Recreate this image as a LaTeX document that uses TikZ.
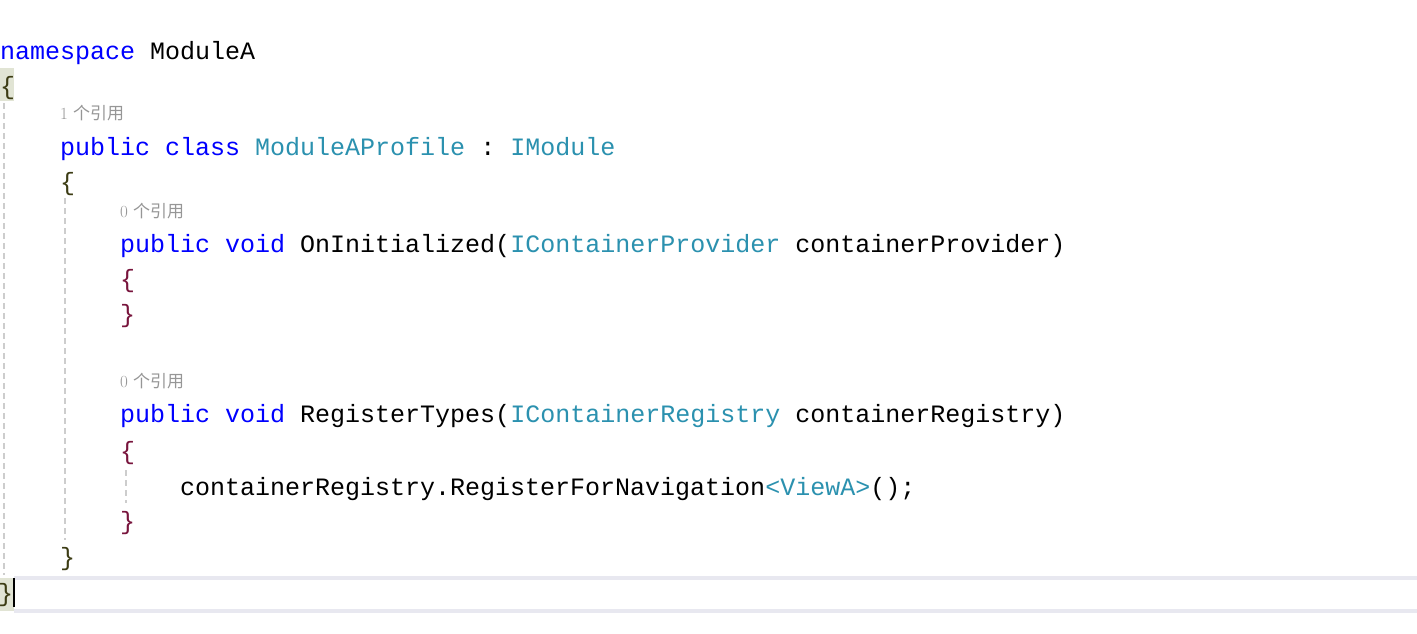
\documentclass[tikz,border=0pt]{standalone}
\usepackage{fontspec}
\setmonofont{Liberation Mono}
\newfontfamily\cjk{Noto Sans CJK SC}
\begin{document}
\begin{tikzpicture}[x=1pt,y=-1pt,
  code/.style={anchor=base west,inner sep=0pt,font=\ttfamily\fontsize{25}{25}\selectfont},
  refs/.style={anchor=base west,inner sep=0pt,text=refgray,font=\fontsize{17}{17}\selectfont},
  guide/.style={draw=guidegray,dashed,line width=1.2pt,dash pattern=on 6pt off 4pt}]
\definecolor{kw}{RGB}{0,0,255}
\definecolor{ty}{RGB}{43,145,175}
\definecolor{refgray}{RGB}{150,150,150}
\definecolor{guidegray}{RGB}{205,205,205}
\definecolor{brA}{RGB}{60,60,20}
\definecolor{brB}{RGB}{120,20,60}
\definecolor{hl}{RGB}{225,228,212}
\definecolor{ln}{RGB}{232,232,240}
\useasboundingbox (0,0) rectangle (1417,634);
\fill[white] (0,0) rectangle (1417,634);
% current-line lines
\fill[ln] (14,576) rectangle (1417,580);
\fill[ln] (14,609) rectangle (1417,613);
% brace highlights
\fill[hl] (0,68) rectangle (14,101);
\fill[hl] (0,578) rectangle (14,611);
% guides
\draw[guide] (4,103) -- (4,575);
\draw[guide] (65,198) -- (65,540);
\draw[guide] (126,470) -- (126,503);
% code
\node[code] (l1) at (0,60) {\textcolor{kw}{namespace} ModuleA};
\node[code,text=brA] (l2) at (0,95) {\{};
\node[refs] (r1) at (60,120) {1 {\cjk 个引用}};
\node[code] (l3) at (60,155) {\textcolor{kw}{public class} \textcolor{ty}{ModuleAProfile} : \textcolor{ty}{IModule}};
\node[code,text=brA] (l4) at (60,190) {\{};
\node[refs] (r2) at (120,217) {0 {\cjk 个引用}};
\node[code] (l5) at (120,252) {\textcolor{kw}{public void} OnInitialized(\textcolor{ty}{IContainerProvider} containerProvider)};
\node[code,text=brB] (l6) at (120,287) {\{};
\node[code,text=brB] (l7) at (120,322) {\}};
\node[refs] (r3) at (120,387) {0 {\cjk 个引用}};
\node[code] (l8) at (120,422) {\textcolor{kw}{public void} RegisterTypes(\textcolor{ty}{IContainerRegistry} containerRegistry)};
\node[code,text=brB] (l9) at (120,459) {\{};
\node[code] (l10) at (180,495) {containerRegistry.RegisterForNavigation\textcolor{ty}{<ViewA>}();};
\node[code,text=brB] (l11) at (120,529) {\}};
\node[code,text=brA] (l12) at (60,565) {\}};
\node[code,text=brA] (l13) at (-2,601) {\}};
\draw[line width=1.5pt] (14,578) -- (14,607);
\end{tikzpicture}
\end{document}
